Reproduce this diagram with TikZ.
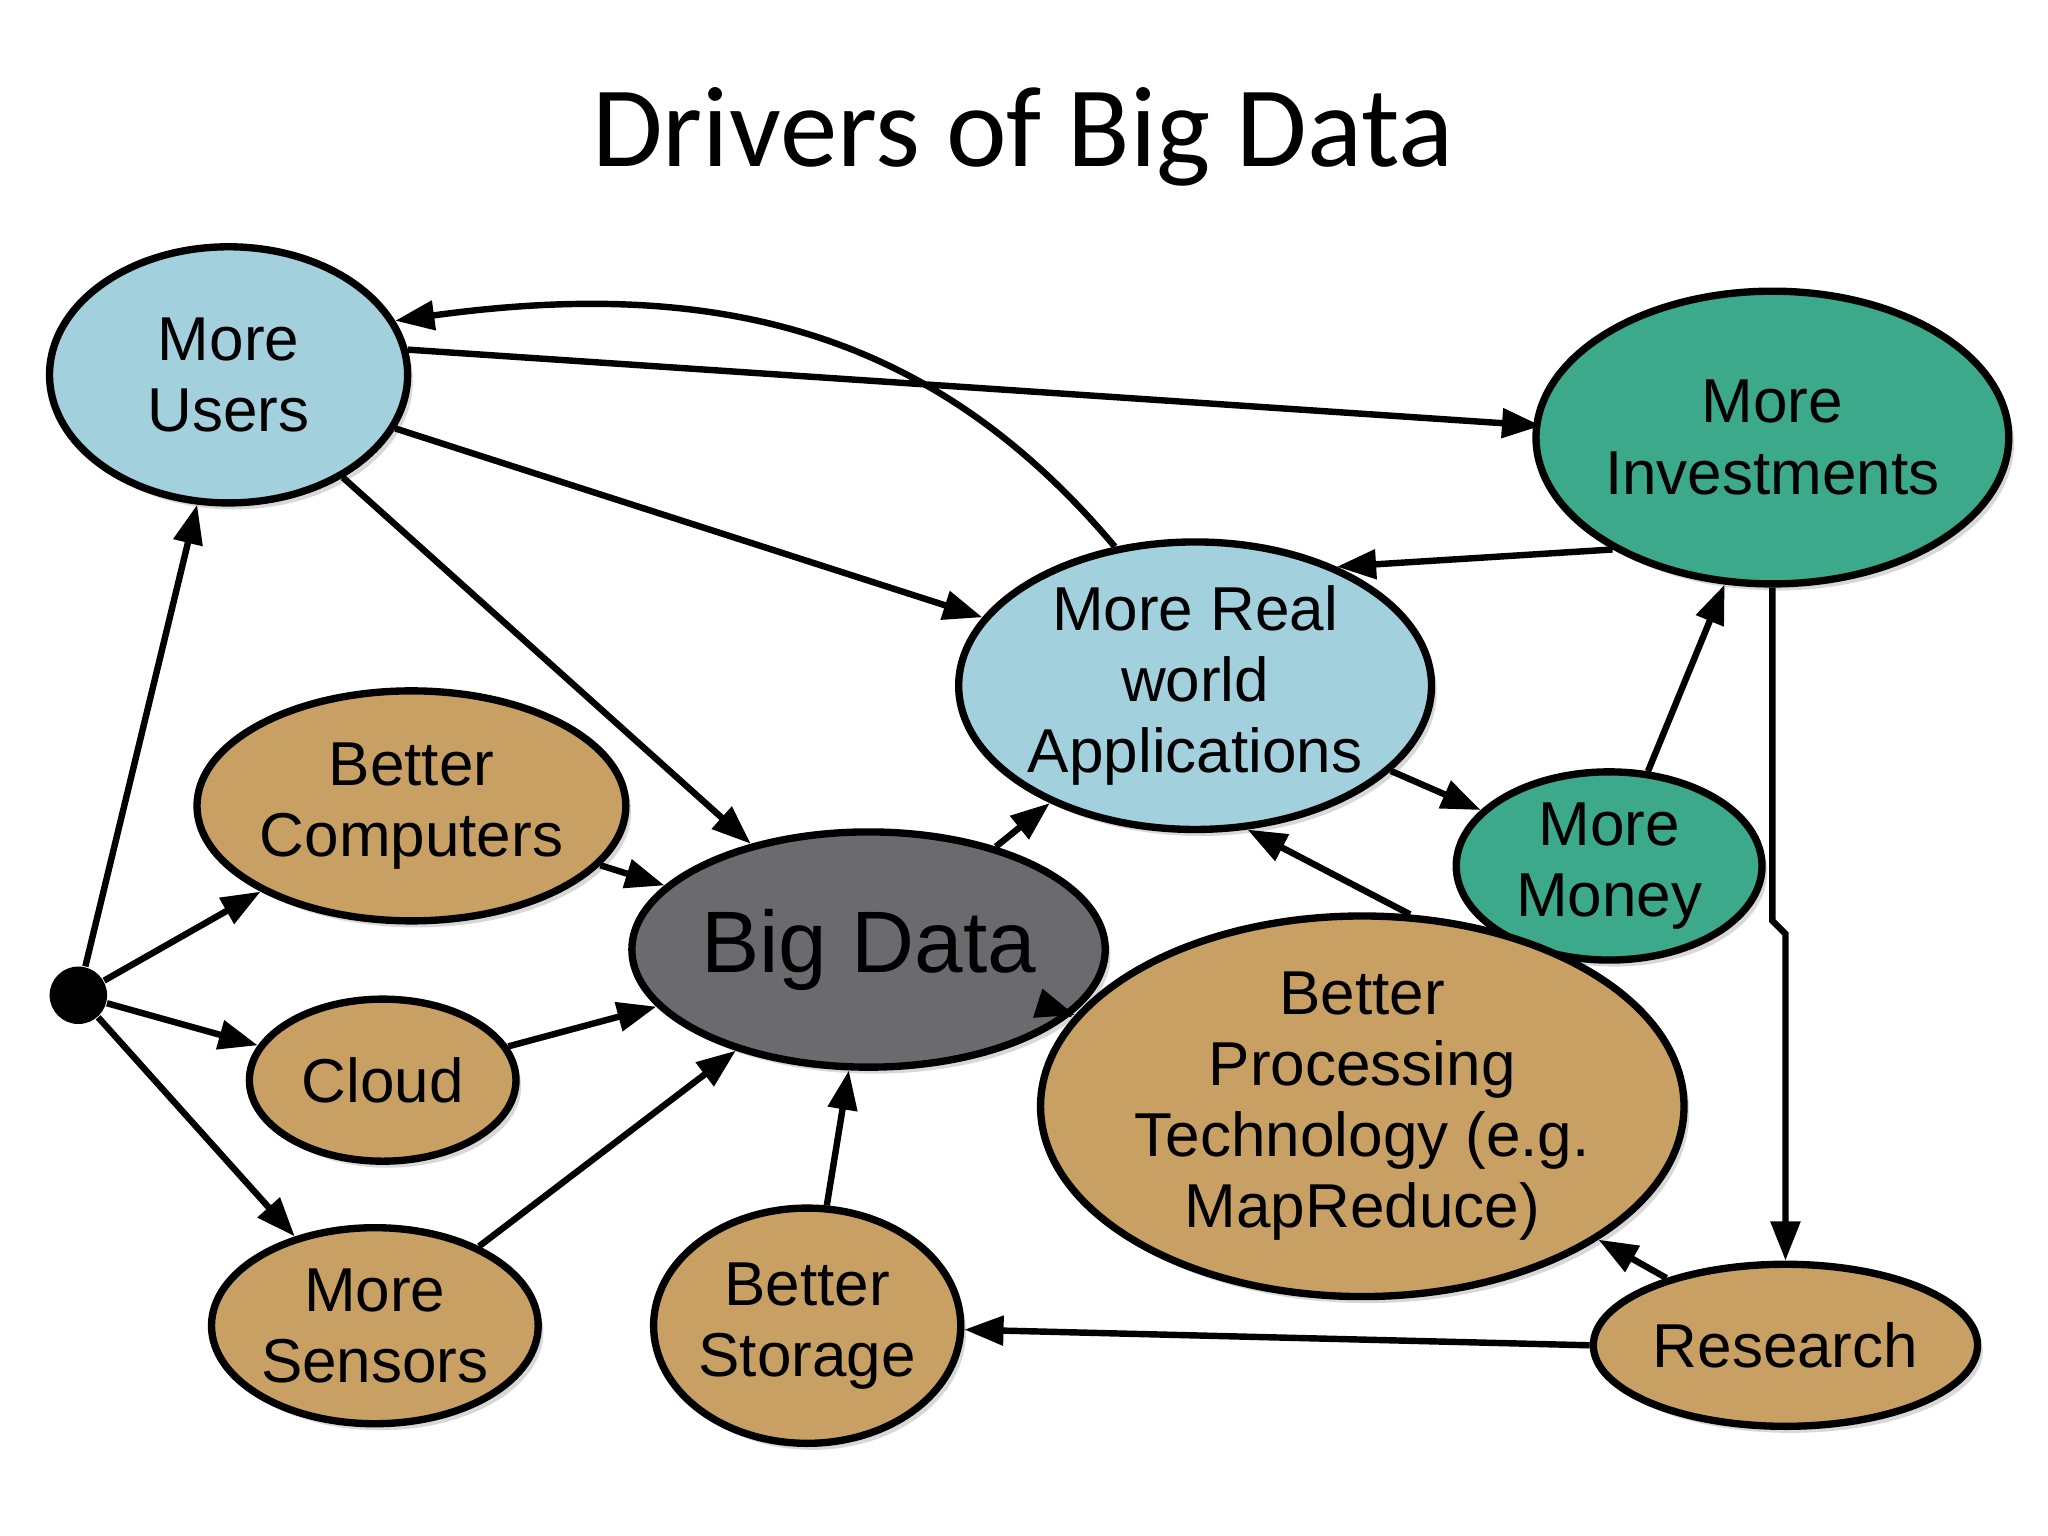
\documentclass[tikz,border=0pt]{standalone}
\usepackage{fontspec}
\setmainfont{Liberation Sans}
\newfontfamily\titlefont{Carlito}
\usetikzlibrary{arrows.meta,shadows,shapes.geometric}
\definecolor{cblue}{HTML}{A2D0DC}
\definecolor{cgreen}{HTML}{3BA98A}
\definecolor{ctan}{HTML}{C9A064}
\definecolor{cgray}{HTML}{6B6A6F}
\tikzset{
 el/.style={ellipse,draw=black,line width=1.6pt,align=center,font=\fontsize{13.5}{15.5}\selectfont,inner sep=0pt,drop shadow={shadow xshift=0.04cm,shadow yshift=-0.05cm,opacity=0.3}},
 ar/.style={-{Triangle[length=0.3cm,width=0.22cm]},line width=1.4pt},
}
\begin{document}
\begin{tikzpicture}[x=0.01cm,y=-0.01cm]
\useasboundingbox[fill=white] (0,0) rectangle (1568,1176);
\node[font=\titlefont\fontsize{25}{30}\selectfont] (title) at (783,105) {Drivers of Big Data};
\node[el,fill=cblue,minimum width=2.74cm,minimum height=1.96cm] (users) at (175,287) {More\\Users};
\node[el,fill=cgreen,minimum width=3.44cm,minimum height=2.24cm] (inv) at (1357,335) {More\\Investments};
\node[el,fill=cblue,minimum width=3.24cm,minimum height=2.2cm] (app) at (915,525) {More Real\\world\\Applications};
\node[el,fill=ctan,minimum width=2.94cm,minimum height=1.76cm] (comp) at (315,617) {Better\\Computers};
\node[el,fill=cgray,minimum width=2.86cm,minimum height=1.8cm,font=\fontsize{19}{22}\selectfont] (big) at (665,727) {Big Data};
\node[el,fill=cgreen,minimum width=2.34cm,minimum height=1.44cm] (money) at (1232,663) {More\\Money};
\node[el,fill=ctan,minimum width=2.04cm,minimum height=1.24cm] (cloud) at (293,827) {Cloud};
\node[el,fill=ctan,minimum width=4.34cm,minimum height=2.4cm] (proc) at (1043,847) {Better\\Processing\\Technology (e.g.\\MapReduce)};
\node[el,fill=ctan,minimum width=2.5cm,minimum height=1.5cm] (sens) at (287,1015) {More\\Sensors};
\node[el,fill=ctan,minimum width=2.2cm,minimum height=1.8cm] (stor) at (618,1015) {Better\\Storage};
\node[el,fill=ctan,minimum width=2.94cm,minimum height=1.24cm] (res) at (1367,1030) {Research};
\node[circle,fill=black,minimum size=0.44cm,inner sep=0pt] (dot) at (60,762) {};
\draw[ar] (dot) -- (users);
\draw[ar] (dot) -- (comp);
\draw[ar] (dot) -- (cloud);
\draw[ar] (dot) -- (sens);
\draw[ar] (comp) -- (big);
\draw[ar] (cloud) -- (big);
\draw[ar] (sens) -- (big);
\draw[ar] (stor) -- (big);
\draw[ar] (users) -- (big);
\draw[ar] (users) -- (app);
\coordinate (iw) at (1180,326);
\draw[ar] (users.8) -- (iw);
\draw[ar] (app.120) .. controls (720,260) and (560,210) .. (users.18);
\draw[ar] (inv.215) -- (app.40);
\coordinate (j1) at (1357,705);
\coordinate (j2) at (1367,715);
\draw[ar] (inv.south -| j1) -- (j1) -- (j2) -- (res.north -| j2);
\draw[ar] (big) -- (app);
\draw[ar] (big) -- (proc);
\draw[ar] (app) -- (money);
\draw[ar] (money) -- (inv.252);
\draw[ar] (proc.76) -- (app.-70);
\draw[ar] (res) -- (proc);
\draw[ar] (res.west) -- (stor);
\end{tikzpicture}
\end{document}
